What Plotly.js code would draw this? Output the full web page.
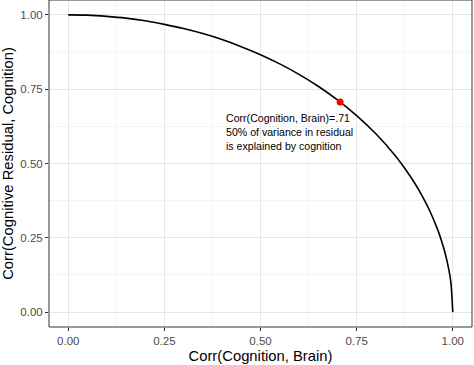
<!DOCTYPE html>
<html><head><meta charset="utf-8">
<script src="https://cdn.plot.ly/plotly-3.0.1.min.js"></script>
<style>html,body{margin:0;padding:0;background:#fff}#c{width:474px;height:365px}</style>
</head><body><div id="c"></div>
<script>
var curveX = [0.00, 0.05, 0.10, 0.15, 0.20, 0.25, 0.30, 0.35, 0.40, 0.45, 0.50, 0.55, 0.60, 0.65, 0.70, 0.75, 0.80, 0.85, 0.88, 0.90, 0.92, 0.94, 0.96, 0.97, 0.98, 0.99, 0.995, 1.00];
var curveY = [1.000, 0.999, 0.995, 0.989, 0.980, 0.968, 0.954, 0.937, 0.917, 0.893, 0.866, 0.835, 0.800, 0.760, 0.714, 0.661, 0.600, 0.527, 0.475, 0.436, 0.392, 0.341, 0.280, 0.243, 0.199, 0.141, 0.100, 0.000];
var pointX = [0.707];
var pointY = [0.707];
var noteLines = ["Corr(Cognition, Brain)=.71", "50% of variance in residual", "is explained by cognition"];
var tickVals = [0, 0.25, 0.5, 0.75, 1];
var xTitle = "Corr(Cognition, Brain)";
var yTitle = "Corr(Cognitive Residual, Cognition)";

var axisCommon = {
  range: [-0.05, 1.05], tickvals: tickVals, tickformat: ".2f",
  showgrid: true, gridcolor: "#e6e6e6", gridwidth: 1,
  minor: {dtick: 0.125, tick0: 0.125, showgrid: true, gridcolor: "#f0f0f0", gridwidth: 0.7},
  zeroline: false, showline: false,
  ticks: "outside", ticklen: 3, tickcolor: "#333333", tickwidth: 1,
  tickfont: {family: "Liberation Sans, Arial, sans-serif", size: 11.5, color: "#4d4d4d"},
  fixedrange: true
};
var xa = Object.assign({}, axisCommon, {title: {text: xTitle, standoff: 4, font: {family: "Liberation Sans, Arial, sans-serif", size: 14.8, color: "#000"}}});
var ya = Object.assign({}, axisCommon, {title: {text: yTitle, standoff: 6, font: {family: "Liberation Sans, Arial, sans-serif", size: 14.8, color: "#000"}}});

var data = [
  {x: curveX, y: curveY, type: "scatter", mode: "lines", line: {color: "#000", width: 1.6, shape: "spline"}, hoverinfo: "none"},
  {x: pointX, y: pointY, type: "scatter", mode: "markers", marker: {color: "#ff0000", size: 7}, hoverinfo: "none"}
];
var layout = {
  width: 474, height: 365,
  margin: {l: 49, r: 2, t: 0, b: 38},
  paper_bgcolor: "#fff", plot_bgcolor: "#fff",
  showlegend: false,
  xaxis: xa, yaxis: ya,
  shapes: [{type: "rect", xref: "paper", yref: "paper", x0: 0, x1: 1, y0: 0, y1: 1, line: {color: "#333333", width: 1}}],
  annotations: [{
    x: 0.405, y: 0.607, xref: "x", yref: "y", xanchor: "left", yanchor: "middle", align: "left",
    showarrow: false, text: noteLines.join("<br>"),
    font: {family: "Liberation Sans, Arial, sans-serif", size: 10.6, color: "#000"}
  }]
};
Plotly.newPlot("c", data, layout, {displayModeBar: false, staticPlot: true});
</script></body></html>
